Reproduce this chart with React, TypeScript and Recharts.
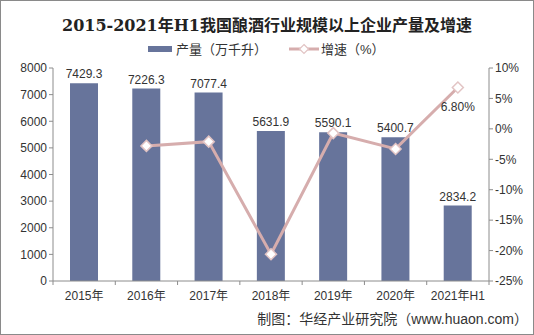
import React from 'react';
import { ComposedChart, Bar, Line, XAxis, YAxis, LabelList } from 'recharts';

const years = ['2015年', '2016年', '2017年', '2018年', '2019年', '2020年', '2021年H1'];
const output = [7429.3, 7226.3, 7077.4, 5631.9, 5590.1, 5400.7, 2834.2];
const growth: (number | null)[] = [null, -2.8, -2.1, -20.6, -0.7, -3.3, 6.8];
const leftTicks = [0, 1000, 2000, 3000, 4000, 5000, 6000, 7000, 8000];
const rightTicks = [-25, -20, -15, -10, -5, 0, 5, 10];

const data = years.map((year, i) => ({ year, output: output[i], growth: growth[i] }));

const FONT = '"Liberation Sans", Arial, "Noto Sans CJK SC", sans-serif';
const BAR = '#67749b';
const LINE = '#d6adad';
const AXIS = '#8c8c8c';
const CHART_W = 532;
const LEFT_W = 52;
const RIGHT_W = 44;
const BAND = (CHART_W - LEFT_W - RIGHT_W) / years.length;

const Diamond = (props: any) => {
  const { cx, cy, value } = props;
  if (value == null || cx == null || cy == null) return null;
  const r = 5.5;
  return (
    <polygon
      points={`${cx},${cy - r} ${cx + r},${cy} ${cx},${cy + r} ${cx - r},${cy}`}
      fill="#ffffff"
      stroke="#e2c4c4"
      strokeWidth={1.5}
    />
  );
};

const LastLabel = (props: any) => {
  const { x, y, value, index } = props;
  if (index !== years.length - 1 || value == null) return null;
  return (
    <text x={x} y={y + 24} textAnchor="middle" fontSize={12} fill="#333" fontFamily={FONT}>
      {`${Number(value).toFixed(2)}%`}
    </text>
  );
};

// category label plus Excel-style tick marks on the band edges
const YearTick = (props: any) => {
  const { x, y, payload, index } = props;
  const left = x - BAND / 2;
  return (
    <g>
      <line x1={left} y1={y - 8} x2={left} y2={y - 4} stroke={AXIS} />
      {index === years.length - 1 && (
        <line x1={x + BAND / 2} y1={y - 8} x2={x + BAND / 2} y2={y - 4} stroke={AXIS} />
      )}
      <text x={x} y={y + 11} textAnchor="middle" fontSize={12} fill="#333" fontFamily={FONT}>
        {payload.value}
      </text>
    </g>
  );
};

export default function App() {
  return (
    <div
      style={{
        position: 'absolute',
        top: 0,
        left: 0,
        width: 534,
        height: 335,
        boxSizing: 'border-box',
        border: '1px solid #8a8a8a',
        background: '#fff',
        fontFamily: FONT,
        overflow: 'hidden',
      }}
    >
      <div
        style={{
          position: 'absolute',
          top: 11,
          left: 0,
          width: 532,
          textAlign: 'center',
          fontFamily: '"DejaVu Serif", "Noto Sans CJK SC", serif',
          fontWeight: 'bold',
          fontSize: 16,
          color: '#222',
        }}
      >
        2015-2021年H1我国酿酒行业规模以上企业产量及增速
      </div>
      <div
        style={{
          position: 'absolute',
          top: 38,
          left: 147,
          display: 'flex',
          alignItems: 'center',
          fontSize: 13,
          color: '#333',
        }}
      >
        <span style={{ display: 'inline-block', width: 24, height: 6, background: BAR, marginRight: 4 }} />
        <span>产量（万千升）</span>
        <svg width={30} height={12} style={{ marginLeft: 22, marginRight: 2 }}>
          <line x1={0} y1={6} x2={30} y2={6} stroke={LINE} strokeWidth={3} />
          <polygon points="15,1.5 19.5,6 15,10.5 10.5,6" fill="#fff" stroke="#e2c4c4" strokeWidth={1.2} />
        </svg>
        <span>增速（%）</span>
      </div>
      <ComposedChart
        width={CHART_W}
        height={333}
        data={data}
        margin={{ top: 67, right: 0, bottom: 25, left: 0 }}
      >
        <XAxis
          dataKey="year"
          tick={<YearTick />}
          tickLine={false}
          axisLine={{ stroke: AXIS }}
          interval={0}
          height={28}
        />
        <YAxis
          yAxisId="left"
          domain={[0, 8000]}
          ticks={leftTicks}
          width={LEFT_W}
          tick={{ fontSize: 12, fill: '#333', fontFamily: FONT }}
          tickLine={{ stroke: AXIS }}
          tickSize={4}
          axisLine={{ stroke: AXIS }}
          interval={0}
        />
        <YAxis
          yAxisId="right"
          orientation="right"
          domain={[-25, 10]}
          ticks={rightTicks}
          width={RIGHT_W}
          tickFormatter={(v: number) => `${v}%`}
          tick={{ fontSize: 12, fill: '#333', fontFamily: FONT }}
          tickLine={{ stroke: AXIS }}
          tickSize={4}
          axisLine={{ stroke: AXIS }}
          interval={0}
        />
        <Bar yAxisId="left" dataKey="output" fill={BAR} barSize={28} isAnimationActive={false}>
          <LabelList dataKey="output" position="top" fontSize={12} fill="#333" fontFamily={FONT} />
        </Bar>
        <Line
          yAxisId="right"
          dataKey="growth"
          stroke={LINE}
          strokeWidth={3}
          dot={<Diamond />}
          activeDot={false}
          isAnimationActive={false}
          label={<LastLabel />}
        />
      </ComposedChart>
      <div
        style={{
          position: 'absolute',
          top: 309,
          right: 5,
          fontSize: 14,
          lineHeight: '18px',
          color: '#333',
        }}
      >
        制图：华经产业研究院（www.huaon.com）
      </div>
    </div>
  );
}
